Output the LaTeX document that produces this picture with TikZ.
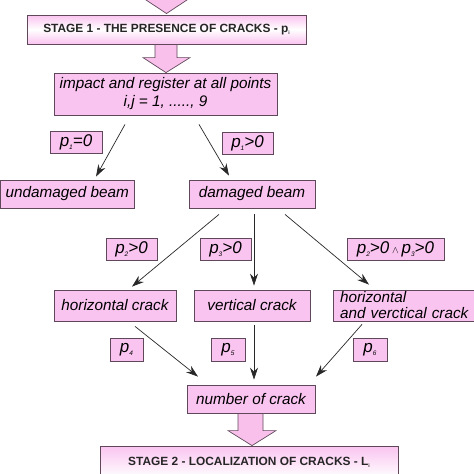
\documentclass[tikz,border=0pt]{standalone}
\usepackage{fontspec}
\setmainfont{Liberation Sans}
\usetikzlibrary{calc,arrows.meta}
\definecolor{boxpink}{RGB}{250,196,240}
\definecolor{arrpink}{RGB}{250,192,236}
\definecolor{bordercol}{RGB}{95,72,90}
\definecolor{linecol}{RGB}{40,40,40}
\newcommand\sbs[1]{\raisebox{-0.35ex}{\fontsize{6.5}{6.5}\selectfont #1}}
\newcommand\ssbs[1]{\raisebox{-0.3ex}{\fontsize{5}{5}\selectfont #1}}
\tikzset{
  box/.style={draw=bordercol, fill=boxpink, line width=0.8pt, inner sep=0pt,
    font=\fontsize{15.3}{18}\selectfont\itshape, text=black},
  lab/.style={draw=bordercol, fill=boxpink, line width=0.8pt, inner sep=0pt,
    font=\fontsize{17}{18}\selectfont\itshape, text=black, minimum height=22pt},
  stagebox/.style={draw=bordercol, line width=0.8pt, inner sep=0pt,
    font=\fontsize{11.9}{14}\selectfont\bfseries, text=black!85},
  arr/.style={draw=linecol, line width=0.7pt, -{Stealth[length=12pt,width=8pt]}},
  barrow/.style={draw=bordercol, fill=arrpink, line width=0.7pt, line join=miter}
}
\begin{document}
\begin{tikzpicture}[x=1pt,y=-1pt]
\useasboundingbox (0,0) rectangle (474,474);
% stage boxes
\node[stagebox, top color=boxpink, bottom color=boxpink, middle color=white,
  minimum width=279pt, minimum height=29pt] (stage1) at (166.5,29.5)
  {STAGE 1 - THE PRESENCE OF CRACKS - p\ssbs{i}};
\node[stagebox, top color=boxpink, bottom color=white,
  minimum width=298pt, minimum height=32pt] (stage2) at (249,462)
  {STAGE 2 - LOCALIZATION OF CRACKS - L\ssbs{i}};
% main boxes
\node[box, minimum width=223pt, minimum height=42pt, align=center] (impact) at (165.5,94)
  {impact and register at all points\\i,j = 1, ....., 9};
\node[box, minimum width=133.5pt, minimum height=28pt] (undamaged) at (67.25,194) {undamaged beam};
\node[box, minimum width=126pt, minimum height=28pt] (damaged) at (252,194) {damaged beam};
\node[box, minimum width=122pt, minimum height=31pt] (hcrack) at (115,305.5) {horizontal crack};
\node[box, minimum width=116pt, minimum height=31pt] (vcrack) at (252,305.5) {vertical crack};
\node[box, minimum width=143pt, minimum height=31pt, text width=129pt, inner xsep=7pt,
  align=left, font=\fontsize{15.3}{16}\selectfont\itshape] (hvcrack) at (404.5,305.5)
  {horizontal\\and verctical crack};
\node[box, minimum width=128pt, minimum height=28pt] (number) at (251,399) {number of crack};
% labels
\node[lab, minimum width=52pt] (l1) at (76,142) {p\sbs{1}=0};
\node[lab, minimum width=51pt] (l2) at (247.5,143) {p\sbs{1}>0};
\node[lab, minimum width=51pt] (l3) at (131.5,249) {p\sbs{2}>0};
\node[lab, minimum width=51pt] (l4) at (225.5,249) {p\sbs{3}>0};
\node[lab, minimum width=97pt] (l5) at (395.5,249) {p\sbs{2}>0\,{\fontsize{10}{10}\selectfont$\wedge$}\,p\sbs{3}>0};
\node[lab, minimum width=33pt, minimum height=23pt] (l6) at (126.5,349.5) {p\sbs{4}};
\node[lab, minimum width=34pt, minimum height=23pt] (l7) at (228,349.5) {p\sbs{5}};
\node[lab, minimum width=34pt, minimum height=23pt] (l8) at (370,349.5) {p\sbs{6}};
% arrows
\draw[arr] ($(impact.south)+(-40.5,9)$) -- ($(undamaged.north)+(28.75,-3)$);
\draw[arr] ($(impact.south)+(33.5,9)$) -- ($(damaged.north)+(-23,-4)$);
\draw[arr] ($(damaged.south)+(-33,6)$) -- ($(hcrack.north)+(17,-3)$);
\draw[arr] ($(damaged.south)+(2,6)$) -- ($(vcrack.north)+(2,-4)$);
\draw[arr] ($(damaged.south)+(33,6)$) -- ($(hvcrack.north)+(-35.5,-5)$);
\draw[arr] ($(hcrack.south)+(20,5)$) -- ($(number.north)+(-53,-8)$);
\draw[arr] ($(vcrack.south)+(2,4)$) -- ($(number.north)+(3,-5)$);
\draw[arr] ($(hvcrack.south)+(-42.5,3)$) -- ($(number.north)+(65,-8)$);
% block arrows
\draw[barrow] (155.5,-12) -- (177.5,-12) -- (177.5,-2) -- (190,-2) -- (166.5,13.5) -- (143,-2) -- (155.5,-2) -- cycle;
\draw[barrow] let \p1=(stage1.south), \p2=(impact.north) in
  (\x1-11.5pt,\y1) -- (\x1+10.5pt,\y1) -- (\x1+10.5pt,\y2+15pt) -- (\x1+23.5pt,\y2+15pt)
  -- (\x1-0.5pt,\y2) -- (\x1-23.5pt,\y2+15pt) -- (\x1-11.5pt,\y2+15pt) -- cycle;
\draw[barrow] let \p1=(number.south), \p2=(stage2.north) in
  (\x1-13pt,\y1) -- (\x1+12pt,\y1) -- (\x1+12pt,\y2+15pt) -- (\x1+25pt,\y2+15pt)
  -- (\x1+1pt,\y2) -- (\x1-23pt,\y2+15pt) -- (\x1-13pt,\y2+15pt) -- cycle;
\end{tikzpicture}
\end{document}
